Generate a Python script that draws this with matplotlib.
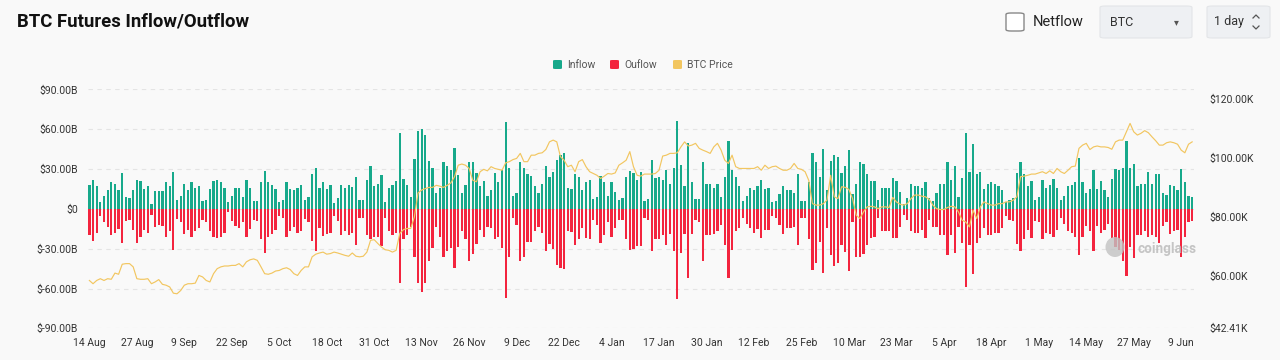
import numpy as np
import pandas as pd
import matplotlib
matplotlib.use('Agg')
import matplotlib.pyplot as plt
from matplotlib.patches import FancyBboxPatch, Ellipse
from matplotlib.lines import Line2D

plt.rcParams['font.family'] = ['Roboto', 'DejaVu Sans']

# daily inflow / outflow in billions USD, 14 Aug 2024 onwards
inflow = [
    18, 22, 17, 5, 9.5, 14, 20, 19, 14, 27, 9, 8, 14, 22, 21, 15, 17, 4, 13.5, 13.5,
    13.5, 20, 17, 28, 7, 9.5, 19, 14, 20.5, 16, 17, 6, 7, 15, 21, 22, 20.5, 16, 5, 9.5,
    16, 16, 9, 22, 16, 6, 6, 20.5, 28.5, 20.5, 18, 15, 5, 6.5, 20, 15, 14, 16, 18, 7,
    9, 26, 31, 16, 20,
    15, 18, 4.5, 8, 18, 15.5, 18, 16.5, 24, 7, 7, 22, 32, 17, 19, 25.5, 5.5, 16, 18, 21,
    57.5, 22.5, 18, 9, 37.5, 59, 60, 56, 36, 31, 12, 16, 35, 32, 29, 46, 25.5, 12, 18, 35,
    35.5, 27, 17, 21, 9.5, 14, 27, 20.5, 29, 65.5, 30.5, 9.5, 12, 35, 31, 26, 25, 17, 12, 19,
    32.5, 24, 28, 37, 41, 42, 16,
    15, 26, 24, 14, 20.5, 22, 7.5, 9, 25, 20.5, 10, 20, 12.5, 7, 8, 24, 28.5, 27, 22, 28,
    6, 7.5, 37, 23.5, 24, 22, 29, 19, 30.5, 66, 33, 17.5, 50, 20, 7.5, 7.5, 35.5, 19, 19, 16,
    19, 9, 24, 51, 29, 24, 17, 6, 10, 15.5, 14, 17, 22, 15, 15.5, 5, 6, 11, 17, 14,
    14, 12, 26, 6, 6, 20,
    42, 35, 24, 45.5, 14, 36, 40.5, 39, 27, 32, 44.5, 11, 19, 35, 34, 26, 21, 21, 7, 15.5,
    16, 16, 23, 21, 12.5, 4, 8.5, 19, 17, 17, 15.5, 20.5, 8.5, 6, 12, 19, 19, 35, 22, 32,
    9, 23, 57.5, 28, 49, 26, 27.5, 15, 19, 20, 19, 17, 14, 5, 7, 8, 27, 35.5, 26, 17,
    21, 7, 9, 22, 16, 18,
    22.5, 15.5, 7, 10, 17, 18, 20.5, 38, 20.5, 12, 15, 29, 15, 21, 14, 9, 22.5, 30, 29, 31,
    51, 31, 34, 17, 19, 19, 28, 19, 26, 26, 12, 10.5, 18, 17, 14, 30, 20, 10, 9,
]

outflow = [
    20, 24, 18, 5, 10, 14, 20, 18, 15, 26, 9, 8, 16, 26, 21, 16, 18, 4.5, 14, 12,
    13, 21, 17, 31, 7.5, 10, 19, 16, 21, 16.5, 14.5, 8, 10, 17, 21, 22, 21, 18, 2.5, 9,
    13, 14.5, 10, 21.5, 15, 8, 9, 23, 33, 21, 19, 16, 5, 6.5, 21, 17, 14, 18, 16.5, 7.5,
    10, 24, 31.5, 14.5, 20.5,
    19, 18, 5, 9, 20, 17, 20, 18, 27, 7, 7, 20, 23, 21, 21.5, 28, 7, 17, 19.5, 18,
    55.5, 23, 19.5, 14, 36, 55.5, 62.5, 56, 39, 29.5, 14, 21, 36, 32, 29.5, 44.5, 29, 17, 23, 39,
    34, 26.5, 16, 21, 14, 14.5, 23, 21, 29.5, 67, 36, 7, 12, 39.5, 36, 25, 25, 17, 14, 18,
    32, 26.5, 30, 42, 44.5, 45, 17,
    17.5, 27.5, 23, 14.5, 22, 23, 8, 12, 26, 20, 10, 21, 14.5, 8, 8, 23, 31, 30, 28, 28,
    7, 8, 32, 22.5, 23, 19.5, 27, 19, 32, 68, 33, 19, 52, 19, 8, 9.5, 39, 19.5, 20, 19,
    17, 12, 27, 52, 31, 17, 14.5, 7, 11, 14.5, 18, 15, 22, 16, 16, 5, 7, 12, 19, 14.5,
    14.5, 14, 27, 7, 7, 23,
    46, 41, 25, 48, 14.5, 35, 43, 41, 27.5, 32.5, 46.5, 9.5, 36, 36, 34, 27.5, 22, 21, 7, 17,
    17, 17, 22, 22, 14, 4.5, 8, 17, 18, 18, 16, 22, 8, 14, 14, 19.5, 19.5, 34.5, 19.5, 33,
    14, 26, 59, 27, 49, 26, 22, 14.5, 19.5, 20, 18, 18, 14.5, 5, 8, 9, 26.5, 32, 23, 16,
    22, 9, 9.5, 23, 18, 19,
    21, 16, 7, 11, 17, 18, 21, 35, 21, 13, 17, 32, 13, 18, 16, 11, 22, 29, 31, 39,
    50.5, 29, 37, 19.5, 20, 17, 21, 19.5, 21, 26, 13, 10, 19, 17, 16, 36, 21, 10, 9,
]

# BTC price in thousands USD
price = [
    58.6, 57.5, 58.6, 59.2, 58.6, 59.2, 59.0, 61.1, 60.7, 64.1, 64.3, 64.3, 63.2, 59.2, 59.0,
    59.0, 59.2, 57.5, 58.1, 58.9, 57.3, 57.0, 56.4, 54.3, 54.1, 55.2, 57.0, 57.5, 57.5, 57.7,
    60.3, 59.8, 58.6, 58.1, 60.9, 62.6, 63.2, 63.5, 63.5, 63.7, 63.7, 64.3, 63.2, 64.9, 65.6,
    65.9, 65.4, 63.2, 60.9, 60.7, 61.1, 61.8, 62.0, 62.6, 62.9, 62.3, 60.9, 60.3, 62.0, 63.2,
    63.2, 66.6, 67.5, 67.9, 68.2,
    67.5, 67.7, 68.2, 67.9, 67.5, 67.1, 66.8, 67.9, 66.8, 66.6, 66.8, 68.2, 72.2, 72.4, 71.1,
    69.9, 69.0, 68.8, 68.2, 68.8, 74.5, 75.8, 76.2, 76.2, 80.1, 88.2, 89.2, 89.7, 90.1, 90.1,
    90.8, 90.5, 90.1, 90.8, 91.6, 93.7, 97.6, 98.0, 97.6, 96.5, 92.5, 92.0, 95.4, 96.2, 95.7,
    97.1, 96.5, 96.2, 95.9, 98.4, 98.8, 99.5, 99.9, 101.6, 98.8, 98.8, 101.0, 101.0, 101.6, 101.8,
    102.9, 105.5, 106.1, 105.5, 100.5, 99.3, 97.1,
    97.6, 95.4, 98.8, 99.5, 97.1, 95.4, 94.8, 94.2, 93.1, 93.9, 94.8, 94.6, 95.0, 97.6, 98.4,
    99.3, 102.2, 97.1, 94.2, 93.9, 94.6, 94.6, 94.6, 94.8, 95.9, 100.7, 101.0, 101.6, 101.6, 101.8,
    103.8, 105.5, 104.1, 104.4, 105.0, 103.3, 102.7, 102.2, 101.6, 103.8, 105.0, 102.7, 99.3, 98.2, 101.0,
    97.1, 96.5, 96.5, 96.5, 96.5, 96.5, 97.1, 95.9, 97.6, 96.5, 97.1, 97.3, 96.5, 95.9, 95.9,
    96.5, 98.2, 96.5, 96.2, 95.4, 92.5,
    84.6, 84.1, 84.1, 84.6, 85.8, 94.2, 86.9, 86.3, 90.3, 90.1, 89.4, 86.3, 80.7, 79.55, 81.8,
    83.5, 83.7, 83.5, 82.9, 83.5, 83.5, 83.3, 86.7, 85.2, 84.4, 84.1, 84.6, 86.3, 87.5, 87.5,
    87.1, 86.9, 86.0, 84.1, 82.9, 82.6, 82.6, 83.3, 83.7, 83.5, 81.8, 79.0, 78.4, 76.7, 82.4,
    79.55, 83.5, 85.2, 84.6, 84.1, 84.1, 84.6, 84.6, 85.2, 85.2, 85.8, 86.9, 93.7, 93.9, 94.2,
    94.6, 94.6, 95.0, 95.4, 94.8, 95.7,
    94.8, 96.5, 95.4, 94.8, 95.9, 97.1, 97.3, 103.3, 104.4, 105.0, 102.9, 103.8, 104.1, 103.8, 103.8,
    103.6, 103.0, 105.5, 106.1, 106.1, 108.9, 111.75, 108.9, 107.8, 108.4, 109.3, 108.6, 107.2, 105.9, 104.4,
    104.4, 105.2, 105.5, 105.2, 104.7, 102.7, 101.8, 104.7, 105.5,
]

n = len(inflow)
dates = pd.date_range('2024-08-14', periods=n, freq='D')
tick_idx = list(range(0, n, 13))
tick_labels = [f"{dates[i].day} {dates[i].strftime('%b')}" for i in tick_idx]

left_ticks = [-90, -60, -30, 0, 30, 60, 90]
left_labels = ['$-90.00B', '$-60.00B', '$-30.00B', '$0', '$30.00B', '$60.00B', '$90.00B']
right_ticks = [42.41, 60, 80, 100, 120]
right_labels = ['$42.41K', '$60.00K', '$80.00K', '$100.00K', '$120.00K']

BG = '#f9f9f9'
GREEN = '#17a98b'
RED = '#f3243e'
GOLD = '#f2c660'
TXT = '#333333'

fig = plt.figure(figsize=(12.8, 3.6), dpi=100, facecolor=BG)
ax = fig.add_axes([0.0684, 0.088, 0.8644, 0.6634])
ax.set_facecolor(BG)

x = np.arange(n)
ax.bar(x, inflow, width=0.62, color=GREEN, zorder=2)
ax.bar(x, -np.array(outflow), width=0.62, color=RED, zorder=2)
ax.set_xlim(-0.5, n - 0.5)
ax.set_ylim(-90, 90)
ax.set_yticks(left_ticks)
ax.set_yticklabels(left_labels)
ax.set_xticks(tick_idx)
ax.set_xticklabels(tick_labels)
ax.yaxis.grid(True, linestyle=(0, (4, 4)), color='#e4e4e4', linewidth=0.8)
ax.set_axisbelow(True)
ax.tick_params(length=0, labelsize=7.5, colors=TXT)
ax.tick_params(axis='y', pad=7)
ax.tick_params(axis='x', pad=7)
for s in ax.spines.values():
    s.set_visible(False)

ax2 = ax.twinx()
ax2.plot(x, price, color=GOLD, linewidth=0.85, zorder=3)
ax2.set_ylim(42.41, 123.22)
ax2.set_yticks(right_ticks)
ax2.set_yticklabels(right_labels)
ax2.tick_params(length=0, labelsize=7.5, colors=TXT, pad=11)
for s in ax2.spines.values():
    s.set_visible(False)

# watermark
fig.patches.append(Ellipse((1115 / 1280, 1 - 247 / 360), 19 / 1280, 20 / 360,
                           transform=fig.transFigure, facecolor='#c2c2c2',
                           edgecolor='none', alpha=0.8, zorder=5))
fig.text(1197 / 1280, 1 - 249 / 360, 'coinglass', ha='right', va='center',
         fontsize=9.8, fontweight='bold', color='#b8b8b8', alpha=0.8, zorder=5)

# title
fig.text(17 / 1280, 1 - 22 / 360, 'BTC Futures Inflow/Outflow', fontsize=13.3,
         fontweight='bold', color='#111111', va='center', ha='left')

# legend
legend_items = [(GREEN, 'Inflow', 553), (RED, 'Ouflow', 610), (GOLD, 'BTC Price', 673)]
for col, lab, px in legend_items:
    fig.patches.append(FancyBboxPatch((px / 1280, 1 - 69 / 360), 9 / 1280, 9 / 360,
                                      boxstyle='round,pad=0,rounding_size=0.002',
                                      transform=fig.transFigure, facecolor=col,
                                      edgecolor='none'))
    fig.text((px + 14) / 1280, 1 - 64.5 / 360, lab, fontsize=7.5, color='#555555',
             va='center', ha='left')

# top-right controls
fig.patches.append(FancyBboxPatch((1006 / 1280, 1 - 31 / 360), 18 / 1280, 18 / 360,
                                  boxstyle='round,pad=0,rounding_size=0.004',
                                  transform=fig.transFigure, facecolor='white',
                                  edgecolor='#888888', linewidth=1.0))
fig.text(1033 / 1280, 1 - 22 / 360, 'Netflow', fontsize=10.5, color='#222222',
         va='center', ha='left')
fig.patches.append(FancyBboxPatch((1100 / 1280, 1 - 38 / 360), 92 / 1280, 32 / 360,
                                  boxstyle='round,pad=0,rounding_size=0.004',
                                  transform=fig.transFigure, facecolor='#eef0f3',
                                  edgecolor='#e3e5e8', linewidth=0.8))
fig.text(1110 / 1280, 1 - 22 / 360, 'BTC', fontsize=9, color='#333333',
         va='center', ha='left')
fig.text(1176 / 1280, 1 - 22 / 360, '▾', fontsize=7, color='#555555',
         va='center', ha='center')
fig.patches.append(FancyBboxPatch((1207 / 1280, 1 - 38 / 360), 63 / 1280, 32 / 360,
                                  boxstyle='round,pad=0,rounding_size=0.004',
                                  transform=fig.transFigure, facecolor='#eef0f3',
                                  edgecolor='#e3e5e8', linewidth=0.8))
fig.text(1214 / 1280, 1 - 22 / 360, '1 day', fontsize=9, color='#333333',
         va='center', ha='left')
cx = 1256
for (ys, yc) in [(18, 15), (26, 29)]:
    fig.add_artist(Line2D([(cx - 3) / 1280, cx / 1280, (cx + 3) / 1280],
                          [1 - ys / 360, 1 - yc / 360, 1 - ys / 360],
                          transform=fig.transFigure, color='#555555', linewidth=0.9))

fig.savefig('out.png', dpi=100, facecolor=BG)
